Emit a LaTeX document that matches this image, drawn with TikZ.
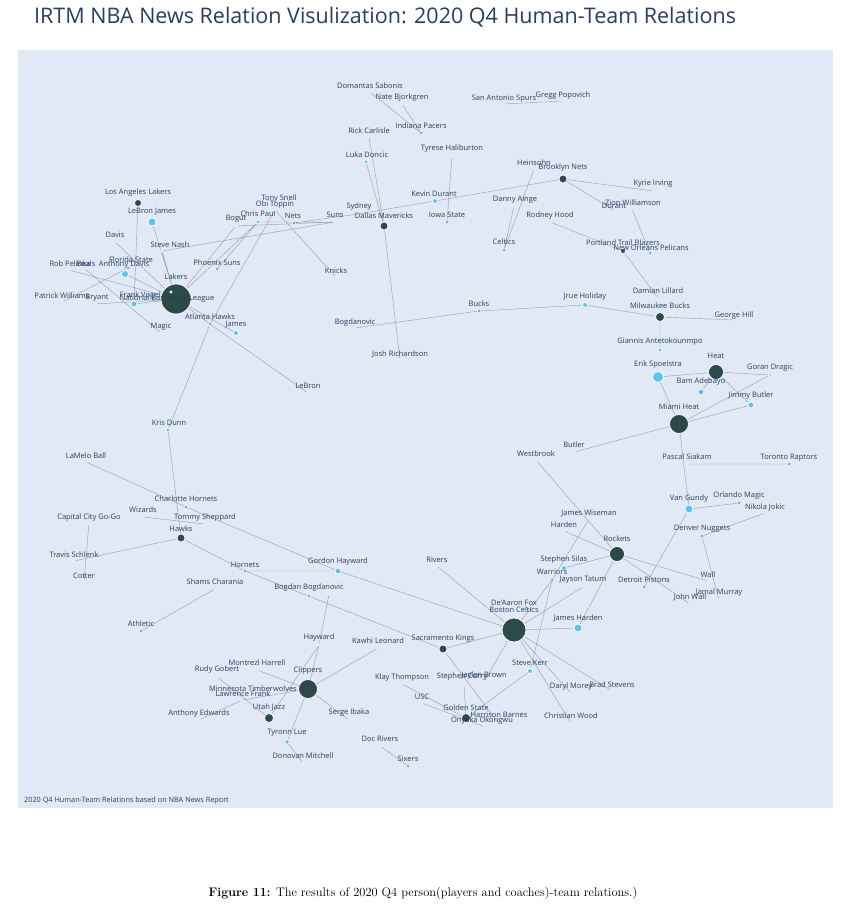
\documentclass[tikz,border=0pt]{standalone}
\usepackage{fontspec}
\setsansfont{Open Sans}
\newfontfamily\plotfont{Open Sans}
\definecolor{plotbg}{HTML}{E0E9F5}
\definecolor{tdark}{HTML}{2C4A4A}
\definecolor{pblue}{HTML}{5BC4F5}
\definecolor{labc}{HTML}{2A3F5F}
\definecolor{edgec}{HTML}{9CA3AC}
\pgfdeclarelayer{bg}\pgfdeclarelayer{edges}
\pgfsetlayers{bg,edges,main}
\tikzset{
 team/.style={circle,fill=tdark,draw=white,line width=0.7pt,minimum size=#1,inner sep=0pt},
 pers/.style={circle,fill=pblue,draw=white,line width=0.7pt,minimum size=#1,inner sep=0pt},
 dotp/.style={circle,fill=pblue,draw=white,line width=0.5pt,minimum size=2.6pt,inner sep=0pt},
 dott/.style={circle,fill=tdark,draw=white,line width=0.5pt,minimum size=3pt,inner sep=0pt},
 lab/.style={text=labc,font=\plotfont\fontsize{7.5}{8}\selectfont,inner sep=0pt},
 edge/.style={draw=edgec,line width=0.45pt}
}
\newcommand\nd[7]{\node[#4] (#1) at (#2,#3) {}; \node[lab] at (#6,#7) {#5};}
\begin{document}
\begin{tikzpicture}[x=1pt,y=-1pt]
\useasboundingbox (0,0) rectangle (840,917);
\begin{pgfonlayer}{bg}
\fill[white] (0,0) rectangle (840,917);
\fill[plotbg] (18,50) rectangle (833,808);
\end{pgfonlayer}
\node[anchor=west,text=labc,font=\plotfont\fontsize{21.5}{24}\selectfont,inner sep=0] at (34,17) {IRTM NBA News Relation Visulization: 2020 Q4 Human-Team Relations};
\node[anchor=west,lab,font=\plotfont\fontsize{7.3}{8}\selectfont] at (24,801) {2020 Q4 Human-Team Relations based on NBA News Report};
\node[font=\fontsize{12.4}{14}\selectfont] at (423,893) {\textbf{Figure 11:} The results of 2020 Q4 person(players and coaches)-team relations.)};
% ---- Lakers cluster
\nd{nba}{176}{299}{team=30pt}{National Basketball League}{167}{299}
\nd{lakers}{171}{292}{dotp}{Lakers}{176}{277}
\nd{lal}{138}{203}{team=7pt}{Los Angeles Lakers}{138}{193}
\nd{lbj}{152}{222}{pers=8pt}{LeBron James}{152}{212}
\nd{davis}{115}{242}{dotp}{Davis}{115}{235}
\nd{nash}{162}{251}{dotp}{Steve Nash}{170}{245}
\nd{fsu}{128}{268}{dott}{Florida State}{131}{260}
\nd{ad}{125}{274}{pers=7pt}{Anthony Davis}{124}{265}
\nd{pelinka}{69}{270}{dotp}{Rob Pelinka}{70}{264}
\nd{beals}{85}{269}{dotp}{Beals}{86}{264}
\nd{pw}{62}{302}{dotp}{Patrick Williams}{62}{296}
\nd{bryant}{95}{304}{dotp}{Bryant}{97}{298}
\nd{vogel}{134}{304}{pers=6pt}{Frank Vogel}{140}{296}
\nd{magic}{161}{333}{dotp}{Magic}{161}{327}
\nd{atl}{210}{324}{dott}{Atlanta Hawks}{210}{317}
\nd{james}{236}{333}{pers=5pt}{James}{236}{325}
\nd{lebron}{308}{393}{dotp}{LeBron}{308}{386}
\nd{phx}{217}{269}{dott}{Phoenix Suns}{217}{263}
\nd{bogut}{236}{226}{dotp}{Bogut}{236}{219}
\nd{cp}{258}{222}{pers=4pt}{Chris Paul}{258}{214}
\nd{obi}{275}{210}{dotp}{Obi Toppin}{275}{205}
\node[lab] at (279,199) {Tony Snell};
\nd{nets}{294}{223}{dott}{Nets}{293}{216}
\nd{suns}{335}{222}{dotp}{Suns}{335}{215}
\nd{knicks}{336}{277}{dotp}{Knicks}{336}{271}
% ---- north
\nd{sydney}{358}{214}{dotp}{Sydney}{359}{207}
\nd{dal}{384}{226}{team=8pt}{Dallas Mavericks}{384}{216}
\nd{sabonis}{370}{92}{dotp}{Domantas Sabonis}{370}{86}
\nd{nate}{402}{104}{dotp}{Nate Bjorkgren}{402}{98}
\nd{ind}{421}{133}{dott}{Indiana Pacers}{421}{126}
\nd{sas}{504}{104}{dotp}{San Antonio Spurs}{504}{99}
\nd{pop}{563}{101}{dotp}{Gregg Popovich}{563}{96}
\nd{carlisle}{369}{137}{dotp}{Rick Carlisle}{369}{131}
\nd{luka}{366}{162}{pers=4pt}{Luka Doncic}{367}{155}
\nd{hali}{452}{156}{dotp}{Tyrese Haliburton}{452}{149}
\nd{iowa}{447}{222}{dott}{Iowa State}{447}{215}
\nd{kd}{435}{201}{pers=5pt}{Kevin Durant}{434}{194}
\nd{heinsohn}{534}{169}{dotp}{Heinsohn}{534}{163}
\nd{bkn}{563}{179}{team=8pt}{Brooklyn Nets}{563}{168}
\nd{kyrie}{653}{191}{dotp}{Kyrie Irving}{653}{184}
\nd{ainge}{514}{206}{dotp}{Danny Ainge}{515}{200}
\nd{durant}{615}{211}{dotp}{Durant}{614}{206}
\nd{zion}{632}{209}{dotp}{Zion Williamson}{633}{203}
\nd{hood}{550}{222}{dotp}{Rodney Hood}{550}{216}
\nd{celtics}{504}{250}{dott}{Celtics}{504}{242}
\nd{por}{623}{251}{team=5pt}{Portland Trail Blazers}{623}{243}
\nd{nop}{650}{253}{dott}{New Orleans Pelicans}{651}{248}
\nd{dame}{658}{298}{dotp}{Damian Lillard}{658}{291}
\nd{jrue}{585}{305}{pers=5pt}{Jrue Holiday}{585}{297}
\nd{mil}{660}{317}{team=9pt}{Milwaukee Bucks}{660}{306}
\nd{hill}{734}{320}{dotp}{George Hill}{734}{316}
\nd{bucks}{479}{311}{dott}{Bucks}{479}{304}
\nd{bogda}{355}{328}{dotp}{Bogdanovic}{355}{323}
\nd{josh}{400}{360}{dotp}{Josh Richardson}{400}{354}
\nd{giannis}{660}{350}{pers=4pt}{Giannis Antetokounmpo}{660}{342}
% ---- Heat
\nd{heat}{716}{372}{team=15pt}{Heat}{716}{356}
\nd{spo}{658}{377}{pers=11pt}{Erik Spoelstra}{658}{365}
\nd{dragic}{770}{375}{pers=3.5pt}{Goran Dragic}{770}{368}
\nd{bam}{701}{392}{pers=6pt}{Bam Adebayo}{701}{382}
\nd{jimmy}{751}{405}{pers=6pt}{Jimmy Butler}{751}{396}
\nd{mia}{679}{424}{team=19pt}{Miami Heat}{679}{407}
\nd{butler}{574}{452}{dotp}{Butler}{574}{445}
\nd{westbrook}{536}{460}{dotp}{Westbrook}{536}{454}
\nd{siakam}{687}{464}{dotp}{Pascal Siakam}{687}{457}
\nd{tor}{789}{464}{dott}{Toronto Raptors}{789}{458}
\nd{vangundy}{689}{509}{pers=8pt}{Van Gundy}{689}{499}
\nd{orl}{739}{503}{dott}{Orlando Magic}{739}{496}
\nd{jokic}{765}{513}{dotp}{Nikola Jokic}{765}{507}
\nd{den}{702}{536}{dott}{Denver Nuggets}{702}{529}
\nd{wiseman}{589}{519}{dotp}{James Wiseman}{589}{513}
\nd{harden}{564}{531}{dotp}{Harden}{564}{525}
\nd{hou}{617}{554}{team=15pt}{Rockets}{617}{539}
\nd{silas}{564}{568}{pers=5pt}{Stephen Silas}{564}{560}
\nd{warriors}{552}{580}{dott}{Warriors}{552}{572}
\nd{tatum}{583}{587}{dotp}{Jayson Tatum}{583}{580}
\nd{det}{644}{587}{dott}{Detroit Pistons}{644}{580}
\nd{wall}{708}{581}{dotp}{Wall}{708}{575}
\nd{jwall}{690}{604}{dotp}{John Wall}{690}{597}
\nd{murray}{719}{600}{dotp}{Jamal Murray}{719}{593}
\nd{jharden}{578}{628}{pers=8pt}{James Harden}{578}{618}
% ---- Celtics
\nd{bos}{514}{630}{team=24pt}{Boston Celtics}{514}{610}
\node[lab] at (514,603) {De'Aaron Fox};
\nd{rivers}{437}{566}{dotp}{Rivers}{437}{560}
\nd{sac}{443}{649}{team=8pt}{Sacramento Kings}{443}{639}
\nd{kerr}{530}{671}{pers=5pt}{Steve Kerr}{530}{663}
\nd{jaylen}{484}{682}{dotp}{Jaylen Brown}{484}{676}
\nd{curry}{464}{685}{dotp}{Stephen Curry}{462}{677}
\nd{morey}{571}{693}{dotp}{Daryl Morey}{571}{687}
\nd{stevens}{612}{691}{dotp}{Brad Stevens}{612}{685}
\nd{wood}{571}{723}{dotp}{Christian Wood}{571}{716}
\nd{gsw}{466}{718}{team=9pt}{Golden State}{466}{708}
\nd{barnes}{498}{723}{dotp}{Harrison Barnes}{499}{715}
\nd{okongwu}{485}{727}{dotp}{Onyeka Okongwu}{482}{721}
\nd{klay}{402}{684}{dotp}{Klay Thompson}{402}{678}
\nd{usc}{422}{703}{dotp}{USC}{422}{697}
% ---- Clippers
\nd{hayward}{319}{645}{dotp}{Hayward}{319}{638}
\nd{kawhi}{378}{648}{dotp}{Kawhi Leonard}{378}{641}
\nd{lac}{308}{689}{team=19pt}{Clippers}{308}{671}
\nd{harrell}{257}{670}{dotp}{Montrezl Harrell}{257}{663}
\nd{gobert}{217}{677}{dotp}{Rudy Gobert}{217}{670}
\nd{frank}{242}{700}{dotp}{Lawrence Frank}{243}{694}
\node[lab] at (253,689) {Minnesota Timberwolves};
\nd{uta}{269}{718}{team=9pt}{Utah Jazz}{269}{707}
\nd{edwards}{199}{720}{dotp}{Anthony Edwards}{199}{714}
\nd{ibaka}{349}{720}{dotp}{Serge Ibaka}{349}{713}
\nd{lue}{287}{742}{pers=4.5pt}{Tyronn Lue}{287}{733}
\nd{mitchell}{303}{763}{dotp}{Donovan Mitchell}{303}{756}
\nd{docr}{380}{746}{dotp}{Doc Rivers}{380}{739}
\nd{sixers}{408}{766}{dott}{Sixers}{408}{759}
% ---- west
\nd{lamelo}{86}{462}{dotp}{LaMelo Ball}{86}{456}
\nd{dunn}{168}{430}{pers=4pt}{Kris Dunn}{169}{423}
\nd{cha}{186}{507}{dott}{Charlotte Hornets}{186}{499}
\nd{wiz}{143}{517}{dotp}{Wizards}{143}{510}
\nd{sheppard}{205}{524}{dotp}{Tommy Sheppard}{205}{518}
\nd{gogo}{89}{523}{dotp}{Capital City Go-Go}{89}{518}
\nd{hawks}{181}{538}{team=8pt}{Hawks}{181}{529}
\nd{schlenk}{74}{561}{dotp}{Travis Schlenk}{74}{555}
\nd{cotter}{84}{582}{dotp}{Cotter}{84}{576}
\nd{hornets}{245}{571}{dott}{Hornets}{245}{565}
\nd{shams}{215}{589}{dotp}{Shams Charania}{215}{582}
\nd{gordon}{338}{571}{pers=6pt}{Gordon Hayward}{338}{562}
\nd{bogdan}{309}{596}{pers=4pt}{Bogdan Bogdanovic}{309}{588}
\nd{bogd2}{329}{594}{dotp}{}{329}{588}
\nd{athletic}{141}{631}{dott}{Athletic}{141}{624}
\begin{pgfonlayer}{edges}
\path[edge] (lal)--(vogel) (lbj)--(nba) (davis)--(nba) (nash)--(nba) (nash)--(suns)
 (pelinka)--(nba) (beals)--(magic) (pw)--(fsu) (ad)--(nba) (bryant)--(nba) (vogel)--(nba)
 (nba)--(bogut) (nba)--(cp) (cp)--(phx) (bogut)--(suns) (cp)--(suns) (obi)--(knicks)
 (obi)--(atl) (atl)--(dunn) (nba)--(james) (nba)--(atl) (atl)--(lebron)
 (dunn)--(hawks) (nets)--(sydney) (sydney)--(kd) (kd)--(bkn)
 (dal)--(carlisle) (dal)--(luka) (dal)--(josh) (sabonis)--(ind) (nate)--(ind)
 (sas)--(pop) (hali)--(iowa) (heinsohn)--(celtics) (ainge)--(celtics)
 (bkn)--(kyrie) (bkn)--(durant) (zion)--(nop) (hood)--(por) (por)--(dame)
 (bogda)--(bucks) (bucks)--(jrue) (jrue)--(mil) (mil)--(hill) (mil)--(giannis)
 (heat)--(spo) (heat)--(dragic) (heat)--(bam) (heat)--(jimmy) (dragic)--(mia)
 (spo)--(mia) (jimmy)--(mia) (mia)--(butler) (mia)--(vangundy) (siakam)--(tor)
 (vangundy)--(orl) (vangundy)--(det) (jokic)--(den) (den)--(murray)
 (westbrook)--(hou) (wiseman)--(warriors) (harden)--(hou) (hou)--(silas) (hou)--(wall)
 (hou)--(jwall) (hou)--(jharden) (warriors)--(kerr) (warriors)--(bos) (tatum)--(bos)
 (bos)--(jharden) (bos)--(sac) (bos)--(jaylen) (bos)--(morey) (bos)--(stevens)
 (bos)--(wood) (rivers)--(bos) (hawks)--(hornets) (hornets)--(sac) (hornets)--(gordon)
 (gordon)--(bos) (lamelo)--(cha) (cha)--(gordon) (wiz)--(sheppard) (gogo)--(cotter)
 (hawks)--(schlenk) (shams)--(athletic) (bogd2)--(hayward) (hayward)--(lac)
 (hayward)--(uta) (lac)--(kawhi) (lac)--(harrell) (lac)--(frank) (lac)--(ibaka)
 (lac)--(lue) (gobert)--(uta) (frank)--(edwards) (lue)--(mitchell) (docr)--(sixers)
 (sac)--(barnes) (curry)--(gsw) (klay)--(gsw) (kerr)--(gsw) (usc)--(okongwu);
\end{pgfonlayer}
\end{tikzpicture}
\end{document}
